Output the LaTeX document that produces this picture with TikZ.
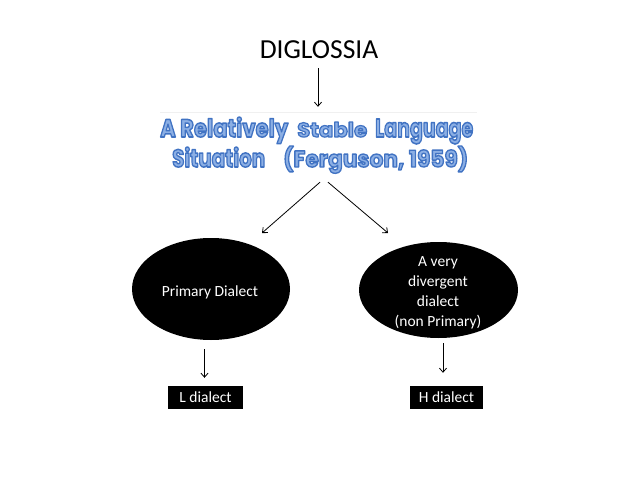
\documentclass[tikz,border=0pt]{standalone}
\usepackage{fontspec}
\setmainfont{Carlito}
\newfontfamily\waf{Poppins}
\usetikzlibrary{shapes.geometric,arrows.meta}
\definecolor{wadark}{RGB}{65,115,195}
\definecolor{walight}{RGB}{140,175,228}
\newcommand\wordart[3]{\resizebox{#1}{#2}{\textcolor{walight}{\special{pdf:literal direct 2 Tr 0.6 w 1 J 1 j 0.255 0.451 0.765 RG}\waf\bfseries #3\special{pdf:literal direct 0 Tr}}}}
\begin{document}
\begin{tikzpicture}[x=1pt,y=-1pt,
  arr/.style={draw=black, line width=0.8pt, -{Straight Barb[length=4pt,width=7pt]}},
  ell/.style={ellipse, fill=black, inner sep=0pt},
  etext/.style={text=white, inner sep=0pt, align=center, font=\fontsize{15.5}{20}\selectfont},
  lab/.style={rectangle, fill=black, text=white, inner sep=0pt, font=\fontsize{15.5}{18}\selectfont},
  wa/.style={anchor=base west, inner sep=0pt}]
\useasboundingbox (0,0) rectangle (638,479);
\fill[white] (0,0) rectangle (638,479);
% title
\node[inner sep=0pt, anchor=base, font=\fontsize{27.5}{32}\selectfont] (dig) at (319,58) {DIGLOSSIA};
\draw[gray!12, line width=0.6pt] (160,112) -- (477,112);
\node[wa] (w1) at (160,137) {\wordart{128pt}{20pt}{A Relatively}};
\node[wa] (w2) at (297,137) {\wordart{70pt}{15pt}{Stable}};
\node[wa] (w3) at (375,137) {\wordart{98pt}{18pt}{Language}};
\node[wa] (w4) at (172,167) {\wordart{93pt}{20pt}{Situation}};
\node[wa] (w5) at (283,167) {\wordart{185pt}{21pt}{(Ferguson, 1959)}};
\node[inner sep=0pt, minimum width=323pt, minimum height=72pt] (title) at (316.5,149) {};
% ellipses
\node[ell, minimum width=158pt, minimum height=102pt] (pd) at (211,289) {};
\node[etext] (pdt) at (210,292) {Primary Dialect};
\node[ell, minimum width=159pt, minimum height=96pt] (vd) at (438.5,290) {};
\node[etext] (vdt) at (438,293) {A very\\divergent\\dialect\\(non Primary)};
% boxes
\node[lab, minimum width=75pt, minimum height=23pt] (ld) at (205.5,397.5) {L dialect};
\node[lab, minimum width=73pt, minimum height=23pt] (hd) at (446.5,397.5) {H dialect};
% connectors
\coordinate (tl) at (262,233);
\coordinate (tr) at (388,233);
\draw[arr, shorten <=10pt, shorten >=6pt] ([xshift=-1pt]dig.south) -- ([xshift=1.5pt]title.north);
\draw[arr] ([xshift=3.5pt,yshift=3pt]title.south) -- (tl);
\draw[arr] ([xshift=11.5pt,yshift=3pt]title.south) -- (tr);
\draw[arr, shorten <=9pt, shorten >=8pt] ([xshift=-1pt]ld.north |- pd.south) -- ([xshift=-1pt]ld.north);
\draw[arr, shorten <=5pt, shorten >=13pt] ([xshift=-3.5pt]hd.north |- vd.south) -- ([xshift=-3.5pt]hd.north);
\end{tikzpicture}
\end{document}
